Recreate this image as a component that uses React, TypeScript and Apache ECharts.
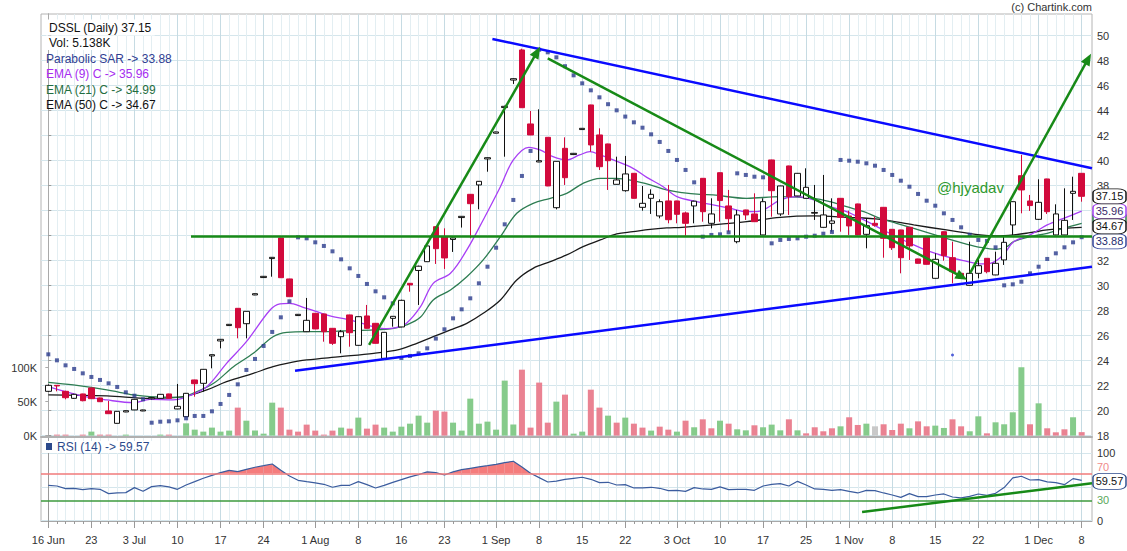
import React, { useEffect, useRef } from "react";
import * as echarts from "echarts";

const FONT = '"Liberation Sans", Arial, sans-serif';

// ---------- data ----------
const tickIdx = [0, 5, 10, 15, 20, 25, 31, 36, 41, 46, 52, 57, 62, 67, 73, 78, 83, 88, 93, 98, 103, 108, 115, 120];
const tickText = ["16 Jun", "23", "3 Jul", "10", "17", "24", "1 Aug", "8", "16", "23", "1 Sep", "8", "15", "22", "3 Oct", "10", "17", "25", "1 Nov", "8", "15", "22", "1 Dec", "8"];
const priceTicks = [18, 20, 22, 24, 26, 28, 30, 32, 34, 36, 38, 40, 42, 44, 46, 48, 50];
// 34 and 36 sit under the value tags, as in the reference
const priceLabels = [18, 20, 22, 24, 26, 28, 30, 32, 38, 40, 42, 44, 46, 48, 50];
const volTicks = [0, 50, 100];
const rsiTicks = [0, 30, 70];
const rsiTopLabel = "100";

const opens = [21.55,22.03,21.55,20.99,21.34,21.82,21.02,19.98,18.99,19.9,
20.06,19.98,20.95,20.99,21.34,20.14,19.52,22.46,22.19,24.38,
25.58,26.81,28.19,26.96,29.26,30.65,32.17,33.82,30.54,27.61,
26.32,27.79,27.74,26.59,25.92,27.66,25.23,27.58,26.99,24.19,
27.39,26.7,30.19,31.22,31.92,34.72,33.92,33.7,35.45,37.31,
38.06,40.14,42.2,44.25,46.45,48.86,42.94,39.9,41.87,36.24,
40.99,40.49,42.49,44.46,42.06,41.34,38.11,37.6,38.99,36.27,
36.99,35.58,36.78,36.78,35.82,36.38,38.59,34.99,39.04,36.38,
33.52,36.06,35.74,34.06,40.06,35.74,39.58,37.18,36.99,35.8,
34.67,34.99,36.99,35.58,36.54,34.11,34.99,36.27,34.51,34.46,
34.67,32.14,33.87,30.59,34.32,32.24,30.99,30.03,30.99,32.19,
30.86,32.06,34.86,38.8,36.78,35.31,38.54,34.06,34.06,37.39,
38.99];
const closes = [22.03,21.98,21.04,21.31,20.8,20.96,20.72,19.76,19.95,20.0,
20.91,20.06,21.05,21.31,20.99,20.35,21.39,22.16,23.31,24.48,
25.71,26.91,26.64,27.95,29.36,30.75,32.27,30.64,29.12,27.71,
27.23,26.54,26.32,25.39,26.32,26.24,27.52,26.59,25.39,26.27,
27.55,28.83,30.06,31.56,33.18,32.96,32.22,33.82,35.55,36.56,
38.35,40.24,42.3,44.35,46.56,44.24,42.06,40.0,37.98,39.95,
38.64,40.59,42.59,41.26,39.52,40.0,38.46,38.94,36.99,36.59,
37.31,36.72,35.28,35.71,34.99,36.76,35.92,35.74,36.81,35.36,
35.66,35.66,35.12,36.72,37.6,37.98,37.12,38.99,37.87,35.86,
35.66,35.18,35.47,34.78,34.06,34.8,34.83,33.79,33.04,32.24,
33.18,31.79,31.71,32.11,32.4,31.12,30.59,30.99,31.6,31.12,
31.79,33.47,36.72,37.66,36.41,36.67,35.92,35.74,35.23,37.55,
37.15];
const highs = [22.1,22.05,21.6,21.35,21.36,21.85,21.05,20.78,19.97,20.02,
20.93,20.08,21.1,21.33,21.36,22.14,21.42,22.48,23.33,24.5,
25.73,26.93,28.21,27.97,29.38,30.77,32.29,33.84,30.56,27.73,
29.02,27.81,27.76,26.61,26.46,27.68,27.54,28.46,27.01,26.29,
27.57,28.88,30.21,31.6,33.2,34.74,34.59,33.85,35.57,37.33,
38.37,40.26,42.32,44.4,46.6,48.96,43.98,44.11,41.89,39.97,
41.87,40.61,42.61,44.48,42.59,41.36,40.32,40.38,39.01,37.98,
37.71,36.91,38.06,36.8,35.92,36.8,38.61,36.99,39.06,37.66,
36.06,36.08,37.39,36.99,40.08,38.0,39.6,39.01,39.39,38.06,
38.86,36.99,37.01,36.0,36.56,35.39,35.52,36.29,34.53,34.48,
34.69,32.16,33.89,32.59,34.34,33.52,31.01,33.52,32.19,32.21,
32.72,33.92,36.74,40.46,37.26,38.51,38.56,36.51,37.79,38.72,
39.01];
const lows = [21.5,21.55,20.91,20.95,20.75,20.94,20.7,19.74,18.97,19.88,
20.04,19.96,20.9,20.97,20.97,20.12,19.5,21.12,21.52,23.39,
24.99,26.79,25.79,25.79,29.24,30.63,30.72,30.62,29.1,27.59,
26.3,26.52,25.52,25.26,24.59,25.12,25.21,26.57,25.37,24.17,
26.72,26.68,29.52,28.46,31.9,31.74,31.34,32.7,34.65,33.79,
36.11,39.12,42.18,40.32,46.14,44.22,42.04,39.88,37.96,36.11,
38.06,40.47,42.47,40.72,39.26,37.66,38.09,37.52,36.97,36.0,
35.74,35.39,34.99,34.99,34.0,34.99,35.12,34.59,35.12,34.32,
33.39,35.26,35.1,34.04,35.52,35.58,35.66,37.16,36.97,35.26,
34.65,34.32,34.32,34.06,34.04,32.99,34.72,32.24,32.86,30.99,
32.06,31.77,31.69,30.57,32.0,30.19,30.57,30.01,30.59,30.99,
30.84,31.66,34.06,35.79,35.98,35.26,35.74,34.04,34.04,35.26,
36.72];

// volume in thousands, with direction vs previous close (u = up, d = down, n = unchanged)
const vols = [0,1.5,1.5,0,1.5,5.9,1.5,1.5,0,1.5,
0,0,0,1.5,1.5,0,18.1,8.8,5.9,11.8,
5.9,7.4,41.2,22,7.4,2.9,48.5,41.2,8.8,5.9,
16.2,7.4,1.5,7.4,11.8,10.3,26.5,10.3,16.2,11.8,
5.9,13.2,17.6,29.4,19.1,36.8,35.3,19.1,7.4,54.4,
17.6,20.6,8.8,80.9,16.2,97,11.8,78,19.1,50,
60.3,2.9,5.9,67.6,41.2,29.4,19.1,26.5,17.6,11.8,
7.4,13.2,8.8,5.9,22,12.3,24,10.8,22,17.6,
9.3,7.8,15.2,12.3,16.2,7.8,24,7.8,3.4,12.3,
6.4,10.8,13.7,27,15.7,17.6,13.7,16.7,8.3,17.6,
10.8,21,13.7,14.7,11.3,24,13.7,6.4,28.4,3.4,
19.6,16.7,34.3,100.5,16.7,47.5,10.8,4.9,9.3,27,
5.138];
const volDir = ["u","d","d","u","d","u","d","d","u","u",
"u","u","u","u","d","d","u","u","u","u",
"u","u","d","u","u","u","u","d","d","d",
"d","d","d","d","u","d","u","d","d","u",
"u","u","u","u","u","d","d","u","u","u",
"u","u","u","u","u","d","d","d","d","u",
"d","u","u","d","d","u","d","u","d","d",
"u","d","d","u","d","u","d","d","u","d",
"u","u","d","u","u","u","d","u","d","d",
"d","d","u","d","d","u","n","d","d","d",
"u","d","d","u","u","d","d","u","u","d",
"u","u","u","u","d","u","d","d","d","u",
"d"];

const sar = [24.51,24.03,23.63,23.34,22.99,22.7,22.46,22.19,21.9,21.47,
21.2,20.91,19.04,19.12,19.15,19.23,19.39,19.58,19.58,19.95,
20.54,21.26,22.11,23.26,24.14,25.18,26.3,27.47,28.75,33.87,
33.79,33.47,33.18,32.75,32.11,31.39,30.78,30.14,29.55,29.07,
28.59,24.22,24.38,24.59,24.99,25.77,26.51,27.39,28.11,28.99,
30.19,31.52,33.04,34.91,36.86,38.78,40.78,48.88,48.67,48.27,
47.56,46.83,46.19,45.63,45.07,44.52,44.03,43.53,43.07,42.64,
42.11,41.5,40.78,40.06,39.26,38.27,33.92,34.06,34.11,34.27,
38.99,38.86,38.72,38.67,33.39,33.66,33.74,33.79,33.92,34.0,
34.16,34.3,40.06,40.0,39.92,39.79,39.6,39.26,38.86,38.4,
37.92,37.34,36.8,36.4,35.79,35.26,34.67,34.08,33.66,33.58,
33.07,30.03,30.11,30.32,30.99,31.52,32.14,32.59,33.07,33.47,
33.88];
// lone stray dot visible well below the price near mid-November
const sarStray = [[105, 24.46]];

const ema9Pts = [[0,21.92],[3.7,21.21],[6.8,20.86],[9.9,20.64],[11.8,20.91],[14.5,20.86],[16.1,21.12],[18.4,21.92],[20.7,23.79],[23,25.52],[25.75,28.06],[26.9,28.54],[28,28.59],[29.6,28.27],[31.2,27.92],[32.7,27.58],[34.7,27.31],[36.2,27.04],[37.75,26.72],[39.3,26.56],[40.5,26.67],[41.6,27.0],[43.2,28.3],[44.7,30.19],[46.7,30.99],[48.6,32.86],[50.5,35.26],[52.5,37.92],[54,40.06],[55.8,41.07],[57.1,40.86],[58.6,40.32],[60.2,40.06],[61.7,40.46],[62.9,40.72],[64.1,40.46],[65.6,40.06],[67.9,39.39],[69.5,38.67],[71.4,37.92],[73,37.12],[75.3,36.72],[77.2,36.46],[79.2,36.19],[81.1,35.92],[82.3,35.92],[83.4,36.19],[85,36.86],[86.9,37.12],[88.9,36.86],[90.8,36.32],[92.7,35.92],[94.7,35.26],[96.6,34.59],[98.5,33.92],[100.5,33.26],[102.4,32.72],[104.3,32.32],[106.3,32.0],[108.2,31.74],[109.4,31.79],[110.9,32.46],[112.1,33.52],[114,34.06],[116,34.86],[117.9,35.39],[120,35.96]];
const ema21Pts = [[0,22.27],[2.9,22.06],[6.8,21.66],[9.9,21.26],[11.8,21.12],[15.3,21.07],[16.8,21.39],[19.2,22.19],[21.5,23.52],[23.8,24.59],[26.1,25.92],[27.7,26.27],[30,26.32],[32.3,26.32],[33.9,26.38],[37.8,26.46],[40.1,26.59],[41.6,26.86],[43.2,27.47],[44.7,28.86],[46.7,29.66],[48.6,30.72],[50.5,32.06],[52.5,33.92],[54.4,35.79],[56.3,36.59],[58.3,36.99],[60.2,37.39],[62.1,38.19],[64.1,38.59],[66,38.59],[67.9,38.4],[69.9,38.06],[71.8,37.66],[73.6,37.45],[75.7,37.3],[77.2,37.26],[81.1,36.99],[85,37.12],[88.9,36.99],[90.8,36.72],[92.7,36.32],[94.7,35.92],[96.6,35.39],[98.5,34.99],[100.5,34.59],[102.4,34.19],[104.3,33.79],[106.3,33.39],[108.2,33.07],[110.1,32.91],[111.3,33.12],[112.1,33.52],[114,33.92],[116,34.19],[117.9,34.59],[120,34.99]];
const ema50Pts = [[0,21.26],[6.8,21.18],[11.8,20.99],[15.7,21.12],[18.4,21.66],[20.7,22.32],[23.8,22.99],[26.1,23.52],[27.7,23.79],[30,24.06],[33.9,24.32],[37.8,24.59],[40.8,24.91],[42.8,25.39],[44.7,25.92],[46.7,26.46],[48.6,26.99],[50.5,27.79],[52.5,28.86],[54.4,30.46],[56.3,31.39],[58.3,31.92],[60.2,32.46],[62.1,33.12],[64.1,33.66],[66,34.14],[67.9,34.32],[69.9,34.51],[71.8,34.62],[73.6,34.67],[77.2,34.86],[81.1,35.12],[85,35.47],[88.9,35.58],[92.7,35.47],[96.6,35.31],[100.5,34.86],[104.3,34.46],[108.2,34.06],[110.1,33.98],[112.1,34.06],[114,34.24],[116,34.46],[117.9,34.59],[120,34.67]];

const rsi = [52.2,51.2,47.3,47.8,45.8,47.3,46.3,39.9,40.9,41.4,
48.8,43.4,50.3,51.7,49.8,46.3,52.7,57.6,62.6,67.0,
71.0,74.4,72.5,75.9,78.9,81.3,83.8,74.4,66.0,59.6,
57.6,55.7,53.7,49.3,52.2,52.2,57.6,53.2,48.3,52.2,
56.6,60.6,64.6,68.0,72.0,71.0,67.5,72.0,75.4,77.4,
79.4,81.3,83.3,85.8,87.8,79.4,70.0,63.6,57.1,58.5,
61.1,62.6,64.1,61.1,56.2,56.7,52.7,53.2,48.3,48.3,
49.3,47.8,44.3,44.8,43.3,48.8,46.8,46.3,49.8,45.8,
46.3,46.3,44.8,51.2,53.7,54.7,51.2,58.1,52.7,46.8,
46.3,44.8,45.8,43.3,40.9,44.8,44.3,40.9,37.9,34.4,
39.9,35.4,35.4,37.9,39.4,34.9,33.5,35.9,39.4,37.4,
40.4,48.8,63.1,65.6,60.1,60.6,57.2,56.2,53.2,62.1,
59.57];

// hand-drawn annotations [x(index), price]
const hLine = [[16.57, 33.95], [121.2, 33.95]];
const blueLower = [[28.65, 23.2], [121.2, 31.51]];
const blueUpper = [[51.57, 49.74], [121.2, 39.4]];
const arrowUp1 = [[37.25, 25.26], [56.76, 48.7]];
const arrowDown = [[58.0, 48.19], [106.1, 30.7]];
const arrowUp2 = [[107.05, 31.02], [120.75, 48.14]];
const rsiTrend = [[94.5, 12.7], [121.2, 55.4]];

// ---------- layout ----------
const X_MIN = -0.85, X_MAX = 121.2;
const P_MIN = 17.896, P_MAX = 51.736;
const V_MIN = -2, V_MAX = 620;
const R_MIN = -0.6, R_MAX = 123.7;
const LIGHT = "#e3eef2", DARK = "#c6dbe3", HGRID = "#d5e6ec";
const UP_VOL = "#86cb8b", DN_VOL = "#ea8292", NEU_VOL = "#c9c9c9";
const RED = "#d20a3c";
const GREEN_T = "#178a17";
const BLUE_T = "#0a0aff";

function buildOption(): any {
  const allIdx = opens.map((_, i) => i);
  const lastEma9 = ema9Pts[ema9Pts.length - 1][1];
  const lastEma21 = ema21Pts[ema21Pts.length - 1][1];
  const lastEma50 = ema50Pts[ema50Pts.length - 1][1];
  const lastClose = closes[closes.length - 1];
  const lastSar = sar[sar.length - 1];
  const lastRsi = rsi[rsi.length - 1];
  const lastVol = vols[vols.length - 1];

  const xBase = (grid: number, values: number[], color: string, extra: any = {}) => ({
    gridIndex: grid,
    type: "value",
    min: X_MIN,
    max: X_MAX,
    axisLine: { show: false },
    axisTick: { show: false, customValues: values },
    axisLabel: { show: false },
    splitLine: { show: true, lineStyle: { color, width: 1 } },
    ...extra,
  });

  const seg = (pts: number[][]) => [{ coord: pts[0] }, { coord: pts[1] }];

  // value tags on the price axis, stacked like the reference (green one sits hidden underneath)
  const tags = [
    { v: lastEma21, c: "#2d7a4a", tc: "#1d5a34", dy: -4.5, text: false },
    { v: lastSar, c: "#33449a", tc: "#1f2d6e", dy: 4.2, text: true },
    { v: lastEma9, c: "#a03cf0", tc: "#3a2a6a", dy: 0, text: true },
    { v: lastEma50, c: "#111", tc: "#111", dy: -1, text: true },
    { v: lastClose, c: "#111", tc: "#111", dy: 0, text: true },
  ];

  return {
    animation: false,
    backgroundColor: "#ffffff",
    textStyle: { fontFamily: FONT },
    grid: [
      { left: 41, top: 14, width: 1051, height: 423, show: true, borderColor: "#b4b4b4", borderWidth: 1, backgroundColor: "transparent" },
      { left: 41, top: 437, width: 1051, height: 84, show: true, borderColor: "#b4b4b4", borderWidth: 1, backgroundColor: "transparent" },
    ],
    xAxis: [
      xBase(0, allIdx, LIGHT),
      xBase(0, tickIdx, DARK, {
        position: "bottom",
        axisLine: { show: true, onZero: false, lineStyle: { color: "#b0b0b0", width: 2 } },
      }),
      xBase(1, allIdx, LIGHT, {
        position: "bottom",
        axisLine: { show: true, onZero: false, lineStyle: { color: "#a8a8a8", width: 1 } },
        axisTick: { show: true, customValues: allIdx, length: 3, lineStyle: { color: "#999" } },
      }),
      xBase(1, tickIdx, DARK, {
        position: "bottom",
        axisLine: { show: false, onZero: false },
        axisTick: { show: true, customValues: tickIdx, length: 7, lineStyle: { color: "#999" } },
        axisLabel: {
          show: true,
          customValues: tickIdx,
          margin: 13,
          fontSize: 11,
          color: "#333",
          fontFamily: FONT,
          formatter: (v: number) => {
            const k = tickIdx.indexOf(Math.round(v));
            return k >= 0 ? tickText[k] : "";
          },
        },
      }),
    ],
    yAxis: [
      {
        gridIndex: 0, type: "value", position: "right", min: P_MIN, max: P_MAX,
        axisLine: { show: true, lineStyle: { color: "#9a9a9a" } },
        axisTick: { show: true, length: 3, customValues: priceTicks, lineStyle: { color: "#9a9a9a" } },
        axisLabel: { customValues: priceLabels, margin: 5, fontSize: 11, color: "#333", fontFamily: FONT, showMinLabel: true, showMaxLabel: true, hideOverlap: false },
        splitLine: { show: true, lineStyle: { color: HGRID } },
      },
      {
        gridIndex: 0, type: "value", position: "left", min: V_MIN, max: V_MAX,
        axisLine: { show: true, lineStyle: { color: "#aaa" } },
        axisTick: { show: true, length: 3, customValues: volTicks, lineStyle: { color: "#aaa" } },
        axisLabel: { customValues: volTicks, margin: 4, fontSize: 11, color: "#333", fontFamily: FONT, formatter: (v: number) => v + "K", showMinLabel: true, showMaxLabel: true },
        splitLine: { show: false },
      },
      {
        gridIndex: 1, type: "value", position: "right", min: R_MIN, max: R_MAX,
        axisLine: { show: true, lineStyle: { color: "#9a9a9a" } },
        axisTick: { show: false, customValues: [0, 50, 100] },
        axisLabel: {
          customValues: rsiTicks, margin: 5, fontSize: 11, fontFamily: FONT, color: "#333",
          showMinLabel: true, showMaxLabel: true, hideOverlap: false,
          formatter: (v: number) => (Number(v) === 70 ? "{hi|70}" : Number(v) === 30 ? "{lo|30}" : "{n|" + v + "}"),
          rich: {
            hi: { color: "#f08a8a", fontSize: 11, fontFamily: FONT, padding: [0, 0, 12, 0] },
            lo: { color: "#5aa85a", fontSize: 11, fontFamily: FONT },
            n: { color: "#333", fontSize: 11, fontFamily: FONT },
          },
        },
        splitLine: { show: true, lineStyle: { color: HGRID } },
      },
    ],
    series: [
      {
        type: "bar", name: "vol", xAxisIndex: 0, yAxisIndex: 1, barWidth: 6, z: 1, silent: true,
        data: vols.map((v, i) => ({
          value: [i, v],
          itemStyle: { color: volDir[i] === "u" ? UP_VOL : volDir[i] === "d" ? DN_VOL : NEU_VOL },
        })),
      },
      {
        type: "line", name: "EMA50", xAxisIndex: 0, yAxisIndex: 0, data: ema50Pts, showSymbol: false, smooth: 0.35, z: 2,
        lineStyle: { color: "#1a1a1a", width: 1.3 },
      },
      {
        type: "line", name: "EMA21", xAxisIndex: 0, yAxisIndex: 0, data: ema21Pts, showSymbol: false, smooth: 0.35, z: 2,
        lineStyle: { color: "#2e7d52", width: 1.3 },
      },
      {
        type: "line", name: "EMA9", xAxisIndex: 0, yAxisIndex: 0, data: ema9Pts, showSymbol: false, smooth: 0.35, z: 2,
        lineStyle: { color: "#a83ef5", width: 1.3 },
      },
      {
        type: "candlestick", name: "DSSL", xAxisIndex: 0, yAxisIndex: 0, barWidth: 6, z: 3,
        data: opens.map((o, i) => [i, o, closes[i], lows[i], highs[i]]),
        encode: { x: 0, y: [1, 2, 3, 4] },
        itemStyle: { color: "#ffffff", color0: RED, borderColor: "#111111", borderColor0: RED, borderWidth: 1 },
      },
      {
        type: "scatter", name: "SAR", xAxisIndex: 0, yAxisIndex: 0, symbol: "rect", symbolSize: 4, z: 4,
        data: sar.map((v, i) => [i, v]),
        itemStyle: { color: "#2b3b8c" },
      },
      {
        type: "scatter", name: "SAR-stray", xAxisIndex: 0, yAxisIndex: 0, symbol: "circle", symbolSize: 3, z: 4,
        data: sarStray,
        itemStyle: { color: "#2b3bd0" },
      },
      {
        type: "line", name: "trend-blue", xAxisIndex: 0, yAxisIndex: 0, data: [], z: 5,
        markLine: {
          silent: true, symbol: ["none", "none"], label: { show: false },
          lineStyle: { color: BLUE_T, width: 2.5, type: "solid" },
          data: [seg(blueLower), seg(blueUpper)],
        },
      },
      {
        type: "line", name: "trend-green", xAxisIndex: 0, yAxisIndex: 0, data: [], z: 5,
        markLine: {
          silent: true, symbol: ["none", "none"], label: { show: false },
          lineStyle: { color: GREEN_T, width: 2.5, type: "solid" },
          data: [seg(hLine)],
        },
      },
      {
        type: "line", name: "arrows", xAxisIndex: 0, yAxisIndex: 0, data: [], z: 5,
        markLine: {
          silent: true, symbol: ["none", "triangle"], symbolSize: [10, 12], label: { show: false },
          lineStyle: { color: GREEN_T, width: 2.5, type: "solid" },
          itemStyle: { color: GREEN_T },
          data: [seg(arrowUp1), seg(arrowDown), seg(arrowUp2)],
        },
      },
      {
        type: "line", name: "tags", xAxisIndex: 0, yAxisIndex: 0, data: [], z: 20, clip: false,
        markPoint: {
          silent: true, symbol: "roundRect", symbolSize: [33, 15],
          label: { show: true, fontSize: 11, fontFamily: FONT, formatter: "{c}" },
          data: tags.map((t) => ({
            coord: [X_MAX, t.v], value: t.v.toFixed(2), symbolOffset: [17.5, t.dy],
            itemStyle: { color: "#ffffff", borderColor: t.c, borderWidth: 1 },
            label: { show: t.text, color: t.tc },
          })),
        },
      },
      {
        type: "custom", name: "rsi-fill", xAxisIndex: 2, yAxisIndex: 2, data: [[0, 70]], silent: true, z: 2,
        renderItem: (_p: any, api: any) => {
          const children: any[] = [];
          for (let i = 0; i < rsi.length - 1; i++) {
            const a = rsi[i], b = rsi[i + 1];
            if (a <= 70 && b <= 70) continue;
            let pts: number[][];
            if (a >= 70 && b >= 70) pts = [[i, 70], [i, a], [i + 1, b], [i + 1, 70]];
            else if (a > 70) { const t = (a - 70) / (a - b); pts = [[i, 70], [i, a], [i + t, 70]]; }
            else { const t = (70 - a) / (b - a); pts = [[i + t, 70], [i + 1, b], [i + 1, 70]]; }
            children.push({ type: "polygon", shape: { points: pts.map((p) => api.coord(p)) }, style: { fill: "#f57c7c" } });
          }
          return { type: "group", children };
        },
      },
      {
        type: "line", name: "RSI", xAxisIndex: 2, yAxisIndex: 2, data: rsi.map((v, i) => [i, v]), showSymbol: false, z: 3,
        lineStyle: { color: "#3b5c9e", width: 1.2 },
        markLine: {
          silent: true, symbol: ["none", "none"], label: { show: false },
          data: [
            { yAxis: 70, lineStyle: { color: "#f07a7a", width: 1.5, type: "solid" } },
            { yAxis: 30, lineStyle: { color: "#3d9a3d", width: 1.5, type: "solid" } },
          ],
        },
      },
      {
        type: "line", name: "rsi-trend", xAxisIndex: 2, yAxisIndex: 2, data: [], z: 5,
        markLine: {
          silent: true, symbol: ["none", "none"], label: { show: false },
          lineStyle: { color: GREEN_T, width: 2.5, type: "solid" },
          data: [seg(rsiTrend)],
        },
      },
      {
        type: "line", name: "rsi-tag", xAxisIndex: 2, yAxisIndex: 2, data: [], z: 20, clip: false,
        markPoint: {
          silent: true, symbol: "roundRect", symbolSize: [33, 16],
          label: { show: true, fontSize: 11, fontFamily: FONT, color: "#111", formatter: "{c}" },
          data: [{
            coord: [X_MAX, lastRsi], value: lastRsi.toFixed(2), symbolOffset: [17.5, 1],
            itemStyle: { color: "#ffffff", borderColor: "#2c4a8c", borderWidth: 1 },
          }],
        },
      },
    ],
    graphic: [
      { type: "text", x: 1092, y: 7, z: 50, style: { text: "(c) Chartink.com", font: `11px ${FONT}`, fill: "#333", align: "right", verticalAlign: "middle" } },
      { type: "text", x: 1097, y: 453, z: 60, style: { text: rsiTopLabel, font: `11px ${FONT}`, fill: "#333", align: "left", verticalAlign: "middle" } },
      { type: "text", x: 46, y: 27.5, z: 50, style: { text: `DSSL (Daily) ${lastClose}`, font: `12px ${FONT}`, fill: "#111", verticalAlign: "middle", backgroundColor: "#fff", padding: [2, 3] } },
      { type: "text", x: 46, y: 43, z: 50, style: { text: `Vol: ${lastVol}K`, font: `12px ${FONT}`, fill: "#111", verticalAlign: "middle", backgroundColor: "#fff", padding: [1, 3] } },
      { type: "text", x: 46, y: 58.5, z: 50, style: { text: `Parabolic SAR -> ${lastSar.toFixed(2)}`, font: `12px ${FONT}`, fill: "#2f3d92", verticalAlign: "middle" } },
      { type: "text", x: 46, y: 74, z: 50, style: { text: `EMA (9) C -> ${lastEma9.toFixed(2)}`, font: `12px ${FONT}`, fill: "#a62cf0", verticalAlign: "middle" } },
      { type: "text", x: 46, y: 89.5, z: 50, style: { text: `EMA (21) C -> ${lastEma21.toFixed(2)}`, font: `12px ${FONT}`, fill: "#1f6e3f", verticalAlign: "middle" } },
      { type: "text", x: 46, y: 105, z: 50, style: { text: `EMA (50) C -> ${lastEma50.toFixed(2)}`, font: `12px ${FONT}`, fill: "#111", verticalAlign: "middle" } },
      { type: "text", x: 937, y: 187.5, z: 50, style: { text: "@hjyadav", font: `15px ${FONT}`, fill: "#2f9a2f", verticalAlign: "middle" } },
      { type: "rect", z: 50, shape: { x: 44, y: 441, width: 112, height: 12 }, style: { fill: "#fff" } },
      { type: "rect", z: 51, shape: { x: 46, y: 443, width: 6, height: 7 }, style: { fill: "#2c4a8c" } },
      { type: "text", x: 57, y: 446.5, z: 51, style: { text: `RSI (14) -> ${lastRsi}`, font: `12px ${FONT}`, fill: "#2c4a8c", verticalAlign: "middle" } },
    ],
  };
}

export default function App() {
  const ref = useRef<HTMLDivElement>(null);
  useEffect(() => {
    if (!ref.current) return;
    const chart = echarts.init(ref.current, null, { renderer: "svg" });
    chart.setOption(buildOption());
    return () => chart.dispose();
  }, []);
  return (
    <div
      ref={ref}
      style={{ position: "absolute", left: 0, top: 0, width: 1127, height: 551, background: "#fff" }}
    />
  );
}
